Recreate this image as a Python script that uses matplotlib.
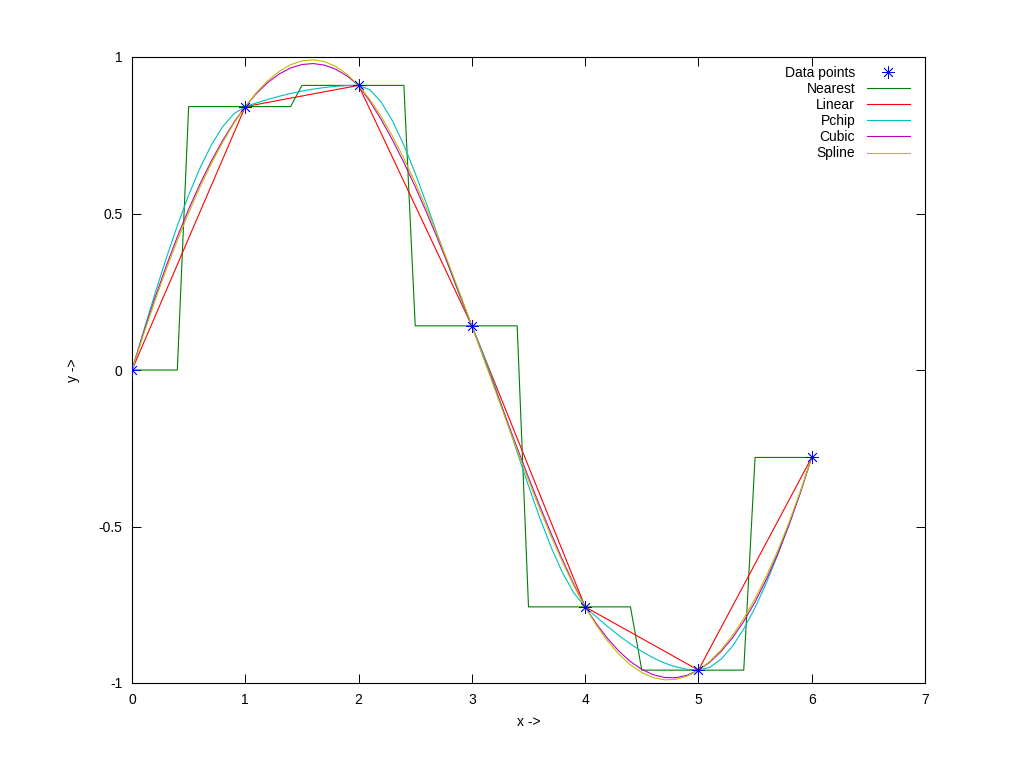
import numpy as np
import matplotlib
matplotlib.use("Agg")
import matplotlib.pyplot as plt

plt.rcParams['font.family'] = ['Liberation Sans', 'DejaVu Sans']

# Data points
x_points = [0, 1, 2, 3, 4, 5, 6]
y_points = [0.0, 0.8415, 0.9093, 0.1411, -0.7568, -0.9589, -0.2794]
series_names = ["Data points", "Nearest", "Linear", "Pchip", "Cubic", "Spline"]
series_colors = ["#0000ff", "#008000", "#ff0000", "#00bfbf", "#bf00bf", "#bfbf00"]
grid_step = 0.1
x_ticks = [0, 1, 2, 3, 4, 5, 6, 7]
y_ticks = [-1, -0.5, 0, 0.5, 1]
y_tick_labels = ["-1", "-0.5", "0", "0.5", "1"]

xp = np.array(x_points, float)
yp = np.array(y_points, float)
n = len(xp)
xf = np.round(np.arange(0, int(round(xp[-1] / grid_step)) + 1) * grid_step, 10)


def interval_index(xq):
    i = np.searchsorted(xp, xq, side='right') - 1
    return np.clip(i, 0, n - 2)


def nearest(xq):
    mids = 0.5 * (xp[:-1] + xp[1:])
    idx = np.searchsorted(mids, xq, side='right')
    return yp[idx]


def linear(xq):
    return np.interp(xq, xp, yp)


def hermite(xq, d):
    i = interval_index(xq)
    h = xp[i + 1] - xp[i]
    t = (xq - xp[i]) / h
    h00 = 2 * t**3 - 3 * t**2 + 1
    h10 = t**3 - 2 * t**2 + t
    h01 = -2 * t**3 + 3 * t**2
    h11 = t**3 - t**2
    return h00 * yp[i] + h10 * h * d[i] + h01 * yp[i + 1] + h11 * h * d[i + 1]


def pchip(xq):
    h = np.diff(xp)
    delta = np.diff(yp) / h
    d = np.zeros(n)
    for k in range(1, n - 1):
        if delta[k - 1] * delta[k] > 0:
            w1 = 2 * h[k] + h[k - 1]
            w2 = h[k] + 2 * h[k - 1]
            d[k] = (w1 + w2) / (w1 / delta[k - 1] + w2 / delta[k])

    def endslope(h0, h1, d0, d1):
        s = ((2 * h0 + h1) * d0 - h0 * d1) / (h0 + h1)
        if np.sign(s) != np.sign(d0):
            s = 0.0
        elif np.sign(d0) != np.sign(d1) and abs(s) > abs(3 * d0):
            s = 3 * d0
        return s

    d[0] = endslope(h[0], h[1], delta[0], delta[1])
    d[-1] = endslope(h[-1], h[-2], delta[-1], delta[-2])
    return hermite(xq, d)


def cubic(xq):
    # piecewise cubic through the four surrounding points
    out = np.empty_like(xq)
    for j, xv in enumerate(xq):
        i = interval_index(xv)
        s = int(np.clip(i - 1, 0, n - 4))
        xs = xp[s:s + 4]
        ys = yp[s:s + 4]
        val = 0.0
        for a in range(4):
            L = 1.0
            for b in range(4):
                if a != b:
                    L *= (xv - xs[b]) / (xs[a] - xs[b])
            val += ys[a] * L
        out[j] = val
    return out


def spline(xq):
    h = np.diff(xp)
    A = np.zeros((n, n))
    r = np.zeros(n)
    A[0, 0], A[0, 1], A[0, 2] = h[1], -(h[0] + h[1]), h[0]
    for i in range(1, n - 1):
        A[i, i - 1] = h[i - 1]
        A[i, i] = 2 * (h[i - 1] + h[i])
        A[i, i + 1] = h[i]
        r[i] = 6 * ((yp[i + 1] - yp[i]) / h[i] - (yp[i] - yp[i - 1]) / h[i - 1])
    A[-1, -3], A[-1, -2], A[-1, -1] = h[-1], -(h[-2] + h[-1]), h[-2]
    M = np.linalg.solve(A, r)
    i = interval_index(xq)
    hi = h[i]
    a = xp[i + 1] - xq
    b = xq - xp[i]
    return (M[i] * a**3 / (6 * hi) + M[i + 1] * b**3 / (6 * hi)
            + (yp[i] / hi - M[i] * hi / 6) * a + (yp[i + 1] / hi - M[i + 1] * hi / 6) * b)


fig = plt.figure(figsize=(10.24, 7.68), dpi=100)
ax = fig.add_axes([132 / 1024, 1 - 683 / 768, 793 / 1024, 626 / 768])

ax.plot(xp, yp, linestyle='none', marker=(8, 2, 0), markersize=9,
        markeredgewidth=0.55, color=series_colors[0], label=series_names[0],
        zorder=3)
curves = [nearest(xf), linear(xf), pchip(xf), cubic(xf), spline(xf)]
for name, col, yv in zip(series_names[1:], series_colors[1:], curves):
    ax.plot(xf, yv, color=col, linewidth=0.8, label=name, zorder=2)

ax.set_xlim(0, 7)
ax.set_ylim(-1, 1)
ax.set_xticks(x_ticks)
ax.set_yticks(y_ticks)
ax.set_yticklabels(y_tick_labels)
ax.tick_params(direction='in', top=True, right=True, length=6.5, width=0.7,
               pad=7, labelsize=10, colors='black')
for sp in ax.spines.values():
    sp.set_linewidth(0.8)

ax.set_xlabel("x ->", fontsize=10)
ax.set_ylabel("y ->", fontsize=10)
ax.xaxis.set_label_coords(0.5, (683 - 722) / 626)
ax.xaxis.label.set_va('center')
ax.yaxis.set_label_coords((73 - 132) / 793, 0.5)
ax.yaxis.label.set_va('center')

leg = ax.legend(loc='upper right', bbox_to_anchor=(910 / 1024, 1 - 66 / 768),
                bbox_transform=fig.transFigure, frameon=False, markerfirst=False,
                borderpad=0, borderaxespad=0, handlelength=3.1, handletextpad=0.85,
                labelspacing=0.15, fontsize=10)

fig.savefig("out.png", dpi=100)
